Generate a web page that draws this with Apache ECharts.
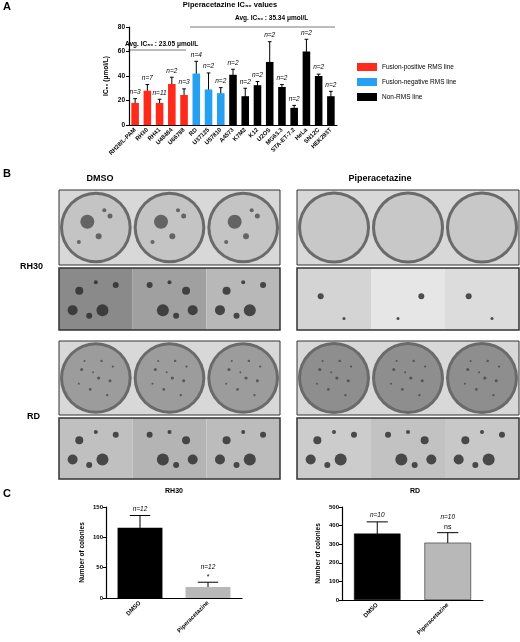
<!DOCTYPE html>
<html>
<head>
<meta charset="UTF-8">
<script src="https://cdn.jsdelivr.net/npm/echarts@6/dist/echarts.min.js"></script>
<style>
  body { margin: 0; background: #fff; }
  #chart { width: 520px; height: 642px; }
</style>
</head>
<body>
<div id="chart"></div>
<script>
// Panel A data
const cellLines = ['RH28/L-PAM', 'RH30', 'RH41', 'U48484', 'U66788', 'RD', 'U37125', 'U57810', 'A4573', 'K7M2', 'K12', 'U2OS', 'MG63.3', 'STA-ET-7.2', 'HeLa', 'SN12C', 'HEK293T']
const ic50 = [18, 28, 18, 33.5, 24.5, 42, 29, 26, 41, 23.5, 32.5, 51.5, 31, 14, 60, 40, 23.5]
const ic50Top = [21.5, 33, 21, 39, 29.5, 52, 42.5, 30.5, 45.5, 30, 35.5, 68, 33, 16, 70, 41.5, 27.5]
const ic50N = ['n=3', 'n=7', 'n=11', 'n=2', 'n=3', 'n=4', 'n=2', 'n=2', 'n=2', 'n=2', 'n=2', 'n=2', 'n=2', 'n=2', 'n=2', 'n=2', 'n=2']
const groupOf = [0, 0, 0, 0, 0, 1, 1, 1, 2, 2, 2, 2, 2, 2, 2, 2, 2]
const groupNames = ['Fusion-positive RMS line', 'Fusion-negative RMS line', 'Non-RMS line']
const groupColors = ['#ff2a1a', '#26a0f0', '#000000']

// Panel C data
const treatments = ['DMSO', 'Piperacetazine']
const rh30Colonies = [116, 18]
const rh30Top = [136, 26]
const rh30N = ['n=12', 'n=12']
const rdColonies = [357, 308]
const rdTop = [420, 362]
const rdN = ['n=10', 'n=10']
const cColors = ['#000000', '#b8b8b8']

const chart = echarts.init(document.getElementById('chart'))
const fs = 6.5
const axisStyle = { lineStyle: { color: '#000', width: 1.2 } }

function errSeries(xi, yi, tops, labels, extra) {
  return {
    type: 'custom', xAxisIndex: xi, yAxisIndex: yi, z: 1,
    data: tops.map((t, i) => [i, t]),
    renderItem: (params, api) => {
      const i = api.value(0)
      const top = api.coord([i, api.value(1)])
      const base = api.coord([i, 0])
      const w = api.size([1, 0])[0] * 0.3
      const hasExtra = extra && extra[i]
      const kids = [
        { type: 'line', shape: { x1: top[0], y1: top[1], x2: top[0], y2: base[1] - 2 }, style: { stroke: '#000', lineWidth: 1 } },
        { type: 'line', shape: { x1: top[0] - w / 2, y1: top[1], x2: top[0] + w / 2, y2: top[1] }, style: { stroke: '#000', lineWidth: 1 } },
        { type: 'text', x: top[0], y: top[1] - (hasExtra ? 12 : 3), style: { text: labels[i], fontSize: fs, fontStyle: 'italic', fill: '#000', align: 'center', verticalAlign: 'bottom', fontFamily: 'Liberation Sans' } }
      ]
      if (hasExtra) kids.push({ type: 'text', x: top[0], y: top[1] - 2, style: { text: extra[i], fontSize: 7, fill: '#000', align: 'center', verticalAlign: 'bottom', fontFamily: 'Liberation Sans' } })
      return { type: 'group', children: kids }
    }
  }
}

// Panel B: placeholder plate images
const graphics = []
function wellRow(x, y, w, h, shade, dots) {
  graphics.push({ type: 'rect', shape: { x, y, width: w, height: h }, style: { fill: '#d8d8d8', stroke: '#333', lineWidth: 1 } })
  const cw = w / 3
  for (let k = 0; k < 3; k++) {
    const cx = x + cw * k + cw / 2, cy = y + h / 2
    graphics.push({ type: 'circle', shape: { cx, cy, r: Math.min(cw, h) / 2 - 1 }, style: { fill: '#6a6a6a' } })
    graphics.push({ type: 'circle', shape: { cx, cy, r: Math.min(cw, h) / 2 - 4 }, style: { fill: shade } })
    dots.forEach(d => graphics.push({ type: 'circle', shape: { cx: cx + d[0] * cw / 2.6, cy: cy + d[1] * h / 2.6, r: d[2] }, style: { fill: 'rgba(60,60,60,0.7)' } }))
  }
}
function microRow(x, y, w, h, shades, dots) {
  const cw = w / 3
  for (let k = 0; k < 3; k++) {
    graphics.push({ type: 'rect', shape: { x: x + cw * k, y, width: cw, height: h }, style: { fill: shades[k] } })
    dots.forEach(d => graphics.push({ type: 'circle', shape: { cx: x + cw * k + cw * (0.5 + d[0] * 0.45 * (k % 2 ? -1 : 1)), cy: y + h * (0.5 + d[1] * 0.45), r: d[2] }, style: { fill: 'rgba(40,40,40,0.8)' } }))
  }
  graphics.push({ type: 'rect', shape: { x, y, width: w, height: h }, style: { fill: 'none', stroke: '#333', lineWidth: 1.5 } })
}
const manyDots = [[-0.5, -0.3, 1.5], [0.2, -0.6, 1.2], [0.5, 0.1, 1.5], [-0.2, 0.4, 1.3], [0.1, 0.0, 1.6], [-0.6, 0.2, 1], [0.4, 0.6, 1.2], [-0.1, -0.2, 1], [0.6, -0.4, 1.1], [-0.4, -0.6, 1]]
const bigDots = [[-0.3, -0.2, 7], [0.1, 0.3, 3], [0.5, -0.4, 2.5], [-0.6, 0.5, 2], [0.3, -0.6, 2]]
const colonyDots = [[-0.5, -0.3, 4], [0.2, 0.4, 6], [0.6, -0.5, 3], [-0.2, 0.6, 3], [0.0, -0.6, 2], [-0.7, 0.4, 5]]
const fewDots = [[-0.4, -0.1, 3], [0.3, 0.7, 1.5]]
wellRow(59, 190, 221, 75, '#c4c4c4', bigDots)
wellRow(297, 190, 222, 75, '#c8c8c8', [])
microRow(59, 268, 221, 62, ['#8a8a8a', '#a0a0a0', '#b8b8b8'], colonyDots)
microRow(297, 268, 222, 62, ['#d4d4d4', '#e6e6e6', '#dcdcdc'], fewDots)
wellRow(59, 341, 221, 74, '#9c9c9c', manyDots)
wellRow(297, 341, 222, 74, '#8e8e8e', manyDots)
microRow(59, 418, 221, 61, ['#c0c0c0', '#b4b4b4', '#bcbcbc'], colonyDots)
microRow(297, 418, 222, 61, ['#cccccc', '#c2c2c2', '#c8c8c8'], colonyDots)

const txt = (x, y, text, size, extra) => ({ type: 'text', x, y, style: Object.assign({ text, fontSize: size, fontWeight: 'bold', fill: '#000', fontFamily: 'Liberation Sans' }, extra || {}) })
graphics.push(
  txt(3, 1, 'A', 11), txt(3, 168, 'B', 11), txt(3, 488, 'C', 11),
  txt(230, 1, 'Piperacetazine IC\u2085\u2080 values', 7.5, { align: 'center' }),
  txt(125, 41, 'Avg. IC\u2085\u2080 : 23.05 \u03bcmol/L', 6.5),
  txt(235, 15, 'Avg. IC\u2085\u2080 : 35.34 \u03bcmol/L', 6.5),
  { type: 'line', shape: { x1: 128, y1: 50, x2: 186, y2: 50 }, style: { stroke: '#555', lineWidth: 0.8 } },
  { type: 'line', shape: { x1: 190, y1: 27, x2: 335, y2: 27 }, style: { stroke: '#555', lineWidth: 0.8 } },
  txt(100, 174, 'DMSO', 9, { align: 'center' }),
  txt(380, 174, 'Piperacetazine', 9, { align: 'center' }),
  txt(20, 262, 'RH30', 9), txt(27, 412, 'RD', 9),
  txt(174, 488, 'RH30', 7, { align: 'center' }),
  txt(415, 488, 'RD', 7, { align: 'center' })
)

chart.setOption({
  animation: false,
  textStyle: { fontFamily: 'Liberation Sans' },
  legend: {
    orient: 'vertical', left: 352, top: 58, itemGap: 7, itemWidth: 20, itemHeight: 8,
    icon: 'rect', textStyle: { fontSize: 6.5, color: '#000' },
    data: groupNames
  },
  grid: [
    { left: 129, top: 27, width: 208, height: 98 },
    { left: 106, top: 507, width: 136, height: 91 },
    { left: 342, top: 507, width: 141, height: 93 }
  ],
  xAxis: [
    { gridIndex: 0, type: 'category', data: cellLines, axisLine: axisStyle, axisTick: { alignWithLabel: true, lineStyle: { color: '#000' } },
      axisLabel: { rotate: 45, fontSize: 6, fontWeight: 'bold', color: '#000', interval: 0, margin: 4 } },
    { gridIndex: 1, type: 'category', data: treatments, axisLine: axisStyle, axisTick: { alignWithLabel: true, lineStyle: { color: '#000' } },
      axisLabel: { rotate: 45, fontSize: 6, fontWeight: 'bold', color: '#000', margin: 4 } },
    { gridIndex: 2, type: 'category', data: treatments, axisLine: axisStyle, axisTick: { alignWithLabel: true, lineStyle: { color: '#000' } },
      axisLabel: { rotate: 45, fontSize: 6, fontWeight: 'bold', color: '#000', margin: 4 } }
  ],
  yAxis: [
    { gridIndex: 0, min: 0, max: 80, interval: 20, name: 'IC\u2085\u2080 (\u03bcmol/L)', nameLocation: 'middle', nameGap: 19,
      nameTextStyle: { fontSize: 6.5, fontWeight: 'bold' }, axisLine: Object.assign({ show: true }, axisStyle), axisTick: { show: true, length: 3 },
      splitLine: { show: false }, axisLabel: { fontSize: 6.5, fontWeight: 'bold', color: '#000', margin: 4 } },
    { gridIndex: 1, min: 0, max: 150, interval: 50, name: 'Number of colonies', nameLocation: 'middle', nameGap: 20,
      nameTextStyle: { fontSize: 6.5, fontWeight: 'bold' }, axisLine: Object.assign({ show: true }, axisStyle), axisTick: { show: true, length: 3 },
      splitLine: { show: false }, axisLabel: { fontSize: 6, fontWeight: 'bold', color: '#000', margin: 3 } },
    { gridIndex: 2, min: 0, max: 500, interval: 100, name: 'Number of colonies', nameLocation: 'middle', nameGap: 20,
      nameTextStyle: { fontSize: 6.5, fontWeight: 'bold' }, axisLine: Object.assign({ show: true }, axisStyle), axisTick: { show: true, length: 3 },
      splitLine: { show: false }, axisLabel: { fontSize: 6, fontWeight: 'bold', color: '#000', margin: 3 } }
  ],
  series: [
    ...groupNames.map((name, g) => ({
      name, type: 'bar', stack: 'ic', xAxisIndex: 0, yAxisIndex: 0, barWidth: '62%', z: 2,
      itemStyle: { color: groupColors[g] },
      data: ic50.map((v, i) => groupOf[i] === g ? v : '-')
    })),
    errSeries(0, 0, ic50Top, ic50N),
    { type: 'bar', xAxisIndex: 1, yAxisIndex: 1, barWidth: '66%', z: 2,
      data: rh30Colonies.map((v, i) => ({ value: v, itemStyle: { color: cColors[i] } })) },
    errSeries(1, 1, rh30Top, rh30N, ['', '*']),
    { type: 'bar', xAxisIndex: 2, yAxisIndex: 2, barWidth: '66%', z: 2,
      data: rdColonies.map((v, i) => ({ value: v, itemStyle: { color: cColors[i], borderColor: '#000', borderWidth: 0.5 } })) },
    errSeries(2, 2, rdTop, rdN, ['', 'ns'])
  ],
  graphic: graphics
})
</script>
</body>
</html>
